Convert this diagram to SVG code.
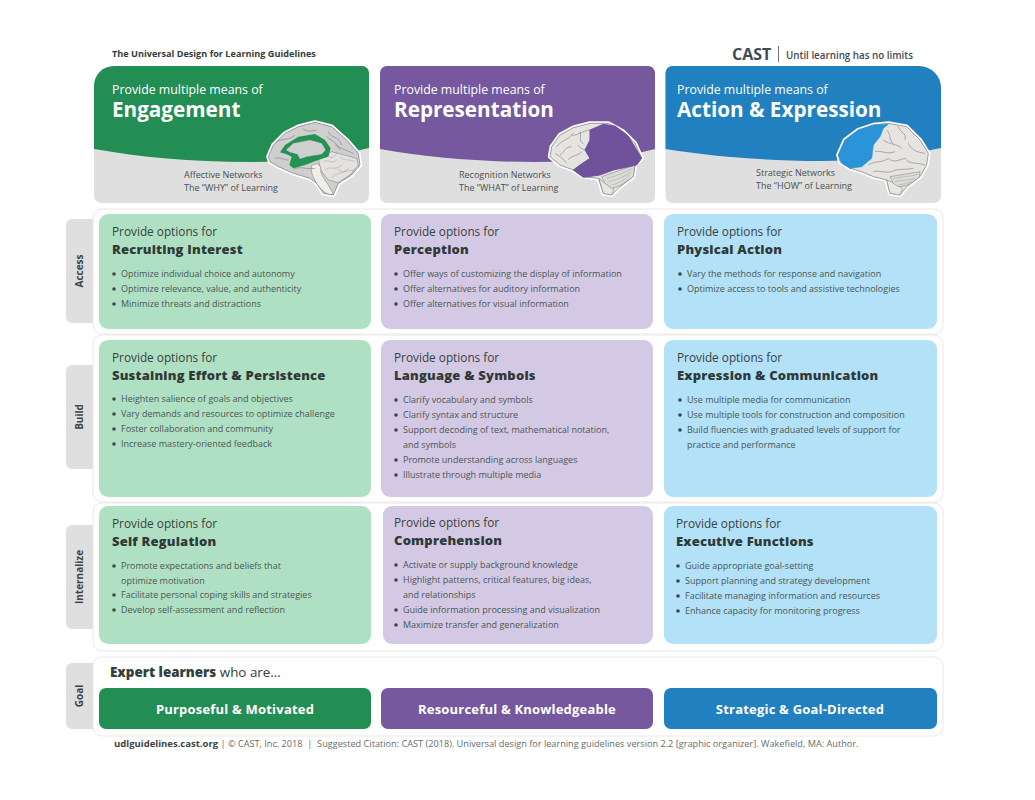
<svg xmlns="http://www.w3.org/2000/svg" width="1035" height="800" viewBox="0 0 1035 800">
<style>
text{font-family:"Open Sans","Noto Sans","DejaVu Sans",sans-serif;fill:#3c4743}
.top{font-size:9.13px;font-weight:700;fill:#333d3a}
.pm{font-size:12.35px;fill:#fff}
.hd{font-size:20.7px;font-weight:700;fill:#fff}
.net{font-size:9px;fill:#4a4f4e}
.po{font-size:11.8px;fill:#38423f}
.h2{font-size:13px;font-weight:800;fill:#2f3a37;letter-spacing:.2px}
.b{font-size:9px;fill:#4a5753}
.tab{font-size:10px;font-weight:700;fill:#3f4442;text-anchor:middle}
.goal{font-size:13px;font-weight:700;fill:#fff;text-anchor:middle;letter-spacing:.2px}
.ft{font-size:9.17px;fill:#666c6a}
.wrap{fill:#fff;stroke:#e8e8e8;stroke-width:1}
.tabbg{fill:#dfdfdf}
.green{fill:#b0e0c3}.purple{fill:#d4c9e4}.blue{fill:#b2e1f8}
.dg{fill:#238e54}.dp{fill:#76589e}.db{fill:#2080c0}
.gray{fill:#dfdfdf}
.halo{fill:none;stroke:#fff;stroke-width:13;stroke-linejoin:round}
.cortex{fill:#e6e4e0;stroke:#6f7172;stroke-width:2;stroke-linejoin:round}
.line{fill:none;stroke:#77797a;stroke-width:1.700}
.hatch{fill:none;stroke:#8e9091;stroke-width:1.200}
.dot{fill:#3c4743}
</style>

<text class="top" x="112" y="57">The Universal Design for Learning Guidelines</text>
<g id="logo">
<text x="732" y="60" font-size="16" font-weight="700" style="fill:#3f4a52">CAST</text>
<rect x="778" y="46" width="1" height="16" fill="#6c7278"/>
<text x="786" y="59" font-size="10.600" font-weight="600" style="fill:#3f4a52" textLength="127" lengthAdjust="spacingAndGlyphs">Until learning has no limits</text>
</g>

<g id="wrappers">
<rect class="tabbg" x="66" y="219" width="34" height="104" rx="6"/>
<rect class="tabbg" x="66" y="365" width="34" height="104" rx="6"/>
<rect class="tabbg" x="66" y="525" width="34" height="104" rx="6"/>
<rect class="tabbg" x="66" y="663" width="34" height="66" rx="6"/>
<rect class="wrap" x="93" y="209" width="850" height="125" rx="9"/>
<rect class="wrap" x="93" y="335" width="850" height="167" rx="9"/>
<rect class="wrap" x="93" y="503" width="850" height="148" rx="9"/>
<rect class="wrap" x="93" y="657" width="850" height="79" rx="9"/>
</g>

<g id="head-engagement">
<path class="gray" d="M94 86a20 20 0 0 1 20-20H362a7 7 0 0 1 7 7V196a7 7 0 0 1-7 7H101a7 7 0 0 1-7-7Z"/>
<path class="dg" d="M94 86a20 20 0 0 1 20-20H362a7 7 0 0 1 7 7V148C330 158 290 162 250 162C190 162 140 157 94 149Z"/>
<text class="pm" x="112" y="94">Provide multiple means of</text>
<text class="hd" x="112" y="117">Engagement</text>
<text class="net" x="184" y="178">Affective Networks</text>
<text class="net" x="184" y="191">The “WHY” of Learning</text>
<g id="brain-medial" transform="translate(260 115) scale(.3333)">
<path class="halo" d="M25 125L40 90 75 55 115 35 165 22 215 35 260 75 295 115 300 150 275 180 235 205 220 240 190 235 170 205 150 190 100 175 55 155 30 140Z"/>
<path d="M25 125L40 90 75 55 115 35 165 22 215 35 260 75 295 115 300 150 275 180 235 205 220 240 190 235 170 205 150 190 100 175 55 155 30 140Z" fill="#cfcfd0" stroke="#6f7172" stroke-width="2" stroke-linejoin="round"/>
<path d="M175 130L215 110 245 118 290 130 295 150 272 178 235 203 205 195 182 165Z" fill="#e4e2de" stroke="#777" stroke-width="1.500"/>
<path class="hatch" d="M190 140C205 130 215 150 230 135M195 165C210 150 225 170 245 150M215 190C225 170 250 180 265 160M240 125C250 140 265 130 285 140M205 120C210 135 225 125 230 115M235 160C240 175 250 170 280 165"/>
<path d="M155 152C172 140 185 150 182 170 188 190 205 205 220 238 205 240 190 235 170 205 160 188 150 170 155 152Z" fill="#efeeea" stroke="#777" stroke-width="1.500"/>
<path class="line" d="M50 80C70 70 90 75 105 60M130 40C135 50 150 50 170 45M205 50C210 70 235 60 245 90M225 90C245 100 255 105 280 115M45 130C60 125 70 135 85 135M100 165C115 150 140 165 165 160M200 65C215 80 225 75 240 105"/>
<path d="M60 112L75 90 115 65 165 57 195 75 212 100 205 125 175 135 135 150 100 160 88 150 95 125 80 118Z" fill="#239353"/>
<path d="M78 105L100 85 150 75 185 85 197 105 185 118 140 125 120 132 112 118 90 112Z" fill="#cfcfd0" stroke="#80838a" stroke-width=".8"/>
</g>
</g>

<g id="head-representation">
<path class="gray" d="M380 73a7 7 0 0 1 7-7H648a7 7 0 0 1 7 7V196a7 7 0 0 1-7 7H387a7 7 0 0 1-7-7Z"/>
<path class="dp" d="M380 73a7 7 0 0 1 7-7H648a7 7 0 0 1 7 7V149C620 158 580 162 535 162C480 162 425 157 380 149Z"/>
<text class="pm" x="394" y="94">Provide multiple means of</text>
<text class="hd" x="394" y="117">Representation</text>
<text class="net" x="459" y="178">Recognition Networks</text>
<text class="net" x="459" y="191">The “WHAT” of Learning</text>
<g id="brain-ventral" transform="translate(540 115) scale(.3333)">
<path class="halo" d="M30 125L35 95 60 60 100 38 150 25 205 25 250 50 285 85 305 130 285 150 280 185 240 215 215 240 190 235 175 190 130 185 100 165 60 150Z"/>
<path class="cortex" d="M30 125L35 95 60 60 100 38 150 25 205 25 250 50 285 85 305 130 285 150 280 185 240 215 215 240 190 235 175 190 130 185 100 165 60 150Z"/>
<path class="line" d="M50 95C65 75 85 75 100 55M120 50C125 65 115 80 130 85M60 120C75 110 75 95 95 95M85 135C95 120 110 125 125 110M45 115C60 125 70 130 80 145M115 90C120 105 135 100 145 110M95 60C110 65 130 45 150 45"/>
<path d="M177 190L190 235 215 240 222 220 195 205Z" fill="#e8e6e2" stroke="#777" stroke-width="1.500"/>
<path d="M185 185L285 150 280 185 240 212 215 220 195 205Z" fill="#dcdcd8" stroke="#777" stroke-width="1.500"/>
<path class="hatch" d="M200 190C225 185 250 175 278 160M205 200C230 195 255 185 275 170M215 210C235 205 255 195 270 180"/>
<path d="M150 45L190 28 225 33 265 63 305 130 290 150 220 165 180 180 130 187 100 165 120 150 150 130 135 105 150 75Z" fill="#70529c" stroke="#70529c" stroke-width="3" stroke-linejoin="round"/>
</g>
</g>

<g id="head-action">
<path class="gray" d="M665.500 73a7 7 0 0 1 7-7H919a22 22 0 0 1 22 22V196a7 7 0 0 1-7 7H672.500a7 7 0 0 1-7-7Z"/>
<path class="db" d="M665.500 73a7 7 0 0 1 7-7H919a22 22 0 0 1 22 22V148C905 156 865 161 820 161C765 161 710 156 665.500 149Z"/>
<text class="pm" x="677" y="94">Provide multiple means of</text>
<text class="hd" x="677" y="117">Action &amp; Expression</text>
<text class="net" x="756" y="176">Strategic Networks</text>
<text class="net" x="756" y="189">The “HOW” of Learning</text>
<g id="brain-frontal" transform="translate(830 115) scale(.3333)">
<path class="halo" d="M25 120L45 75 85 45 130 30 175 25 230 35 270 75 295 115 290 150 270 185 230 215 210 240 180 235 170 195 130 185 95 170 60 160 30 140Z"/>
<path class="cortex" d="M25 120L45 75 85 45 130 30 175 25 230 35 270 75 295 115 290 150 270 185 230 215 210 240 180 235 170 195 130 185 95 170 60 160 30 140Z"/>
<path d="M170 195L180 235 210 240 218 220 195 205Z" fill="#e8e6e2" stroke="#777" stroke-width="1.500"/>
<path d="M180 185L270 170 268 187 230 212 205 215 190 205Z" fill="#dcdcd8" stroke="#777" stroke-width="1.500"/>
<path class="hatch" d="M190 190C215 185 240 185 265 178M195 200C220 195 240 195 255 190M205 210C220 207 235 205 245 198"/>
<path class="line" d="M170 45C185 60 175 75 190 85M205 35C210 55 230 50 225 75M160 75C180 90 200 85 215 100M135 110C155 105 170 120 195 110M115 150C140 135 155 145 175 130M175 130C190 145 205 135 225 130M235 85C245 105 255 110 285 115M225 130C240 150 255 140 285 150M130 170C150 165 160 175 185 170M185 170C205 160 220 165 250 160"/>
<path d="M175 28L130 30 85 45 45 75 25 120 35 145 60 160 95 155 125 130 130 90 150 65 160 40Z" fill="#2b93d8" stroke="#2b93d8" stroke-width="2" stroke-linejoin="round"/>
</g>
</g>

<g id="tab-access"><text class="tab" transform="translate(83 271) rotate(-90)">Access</text></g>
<g id="tab-build"><text class="tab" transform="translate(83 417) rotate(-90)">Build</text></g>
<g id="tab-internalize"><text class="tab" transform="translate(83 577) rotate(-90)">Internalize</text></g>
<g id="tab-goal"><text class="tab" transform="translate(83 696) rotate(-90)">Goal</text></g>

<g id="recruiting-interest">
<rect class="green" x="99" y="214" width="272" height="115" rx="9"/>
<text class="po" x="112" y="236">Provide options for</text>
<text class="h2" x="112" y="254">Recruiting Interest</text>
<circle class="dot" cx="114" cy="274" r="1.800"/><text class="b" x="121" y="277">Optimize individual choice and autonomy</text>
<circle class="dot" cx="114" cy="289" r="1.800"/><text class="b" x="121" y="292">Optimize relevance, value, and authenticity</text>
<circle class="dot" cx="114" cy="304" r="1.800"/><text class="b" x="121" y="307">Minimize threats and distractions</text>
</g>
<g id="perception">
<rect class="purple" x="381" y="214" width="272" height="115" rx="9"/>
<text class="po" x="394" y="236">Provide options for</text>
<text class="h2" x="394" y="254">Perception</text>
<circle class="dot" cx="396" cy="274" r="1.800"/><text class="b" x="403" y="277">Offer ways of customizing the display of information</text>
<circle class="dot" cx="396" cy="289" r="1.800"/><text class="b" x="403" y="292">Offer alternatives for auditory information</text>
<circle class="dot" cx="396" cy="304" r="1.800"/><text class="b" x="403" y="307">Offer alternatives for visual information</text>
</g>
<g id="physical-action">
<rect class="blue" x="664" y="214" width="273" height="115" rx="9"/>
<text class="po" x="677" y="236">Provide options for</text>
<text class="h2" x="677" y="254">Physical Action</text>
<circle class="dot" cx="680" cy="274" r="1.800"/><text class="b" x="687" y="277">Vary the methods for response and navigation</text>
<circle class="dot" cx="680" cy="289" r="1.800"/><text class="b" x="687" y="292">Optimize access to tools and assistive technologies</text>
</g>

<g id="sustaining-effort">
<rect class="green" x="99" y="340" width="272" height="157" rx="9"/>
<text class="po" x="112" y="362">Provide options for</text>
<text class="h2" x="112" y="380">Sustaining Effort &amp; Persistence</text>
<circle class="dot" cx="114" cy="399" r="1.800"/><text class="b" x="121" y="402">Heighten salience of goals and objectives</text>
<circle class="dot" cx="114" cy="414" r="1.800"/><text class="b" x="121" y="417">Vary demands and resources to optimize challenge</text>
<circle class="dot" cx="114" cy="429" r="1.800"/><text class="b" x="121" y="432">Foster collaboration and community</text>
<circle class="dot" cx="114" cy="444" r="1.800"/><text class="b" x="121" y="447">Increase mastery-oriented feedback</text>
</g>
<g id="language-symbols">
<rect class="purple" x="381" y="340" width="272" height="157" rx="9"/>
<text class="po" x="394" y="362">Provide options for</text>
<text class="h2" x="394" y="380">Language &amp; Symbols</text>
<circle class="dot" cx="396" cy="400" r="1.800"/><text class="b" x="403" y="403">Clarify vocabulary and symbols</text>
<circle class="dot" cx="396" cy="415" r="1.800"/><text class="b" x="403" y="418">Clarify syntax and structure</text>
<circle class="dot" cx="396" cy="430" r="1.800"/><text class="b" x="403" y="433">Support decoding of text, mathematical notation,</text>
<text class="b" x="403" y="448">and symbols</text>
<circle class="dot" cx="396" cy="460" r="1.800"/><text class="b" x="403" y="463">Promote understanding across languages</text>
<circle class="dot" cx="396" cy="475" r="1.800"/><text class="b" x="403" y="478">Illustrate through multiple media</text>
</g>
<g id="expression-communication">
<rect class="blue" x="664" y="340" width="273" height="157" rx="9"/>
<text class="po" x="677" y="362">Provide options for</text>
<text class="h2" x="677" y="380">Expression &amp; Communication</text>
<circle class="dot" cx="680" cy="400" r="1.800"/><text class="b" x="687" y="403">Use multiple media for communication</text>
<circle class="dot" cx="680" cy="415" r="1.800"/><text class="b" x="687" y="418">Use multiple tools for construction and composition</text>
<circle class="dot" cx="680" cy="430" r="1.800"/><text class="b" x="687" y="433">Build fluencies with graduated levels of support for</text>
<text class="b" x="687" y="448">practice and performance</text>
</g>

<g id="self-regulation">
<rect class="green" x="99" y="506" width="272" height="138" rx="9"/>
<text class="po" x="112" y="528">Provide options for</text>
<text class="h2" x="112" y="546">Self Regulation</text>
<circle class="dot" cx="114" cy="566" r="1.800"/><text class="b" x="121" y="569">Promote expectations and beliefs that</text>
<text class="b" x="121" y="584">optimize motivation</text>
<circle class="dot" cx="114" cy="595" r="1.800"/><text class="b" x="121" y="598">Facilitate personal coping skills and strategies</text>
<circle class="dot" cx="114" cy="610" r="1.800"/><text class="b" x="121" y="613">Develop self-assessment and reflection</text>
</g>
<g id="comprehension">
<rect class="purple" x="383" y="506" width="270" height="138" rx="9"/>
<text class="po" x="394" y="527">Provide options for</text>
<text class="h2" x="394" y="545">Comprehension</text>
<circle class="dot" cx="396" cy="565" r="1.800"/><text class="b" x="403" y="568">Activate or supply background knowledge</text>
<circle class="dot" cx="396" cy="580" r="1.800"/><text class="b" x="403" y="583">Highlight patterns, critical features, big ideas,</text>
<text class="b" x="403" y="598">and relationships</text>
<circle class="dot" cx="396" cy="610" r="1.800"/><text class="b" x="403" y="613">Guide information processing and visualization</text>
<circle class="dot" cx="396" cy="625" r="1.800"/><text class="b" x="403" y="628">Maximize transfer and generalization</text>
</g>
<g id="executive-functions">
<rect class="blue" x="664" y="506" width="273" height="138" rx="9"/>
<text class="po" x="676" y="528">Provide options for</text>
<text class="h2" x="676" y="546">Executive Functions</text>
<circle class="dot" cx="678" cy="566" r="1.800"/><text class="b" x="685" y="569">Guide appropriate goal-setting</text>
<circle class="dot" cx="678" cy="581" r="1.800"/><text class="b" x="685" y="584">Support planning and strategy development</text>
<circle class="dot" cx="678" cy="596" r="1.800"/><text class="b" x="685" y="599">Facilitate managing information and resources</text>
<circle class="dot" cx="678" cy="611" r="1.800"/><text class="b" x="685" y="614">Enhance capacity for monitoring progress</text>
</g>

<g id="goal">
<text x="110" y="677" font-size="13.400" style="fill:#333d3a"><tspan font-weight="800">Expert learners</tspan> who are...</text>
<g id="goal-purposeful"><rect class="dg" x="99" y="688" width="272" height="41" rx="7"/><text class="goal" x="235" y="714">Purposeful &amp; Motivated</text></g>
<g id="goal-resourceful"><rect class="dp" x="381" y="688" width="272" height="41" rx="7"/><text class="goal" x="517" y="714">Resourceful &amp; Knowledgeable</text></g>
<g id="goal-strategic"><rect class="db" x="664" y="688" width="273" height="41" rx="7"/><text class="goal" x="800" y="714">Strategic &amp; Goal-Directed</text></g>
</g>

<text class="ft" x="114" y="747"><tspan font-weight="700" font-size="9.5" style="fill:#3a4442">udlguidelines.cast.org</tspan> | © CAST, Inc. 2018 &#160;|&#160; Suggested Citation: CAST (2018). Universal design for learning guidelines version 2.2 [graphic organizer]. Wakefield, MA: Author.</text>
<g id="connectors"/>
</svg>
